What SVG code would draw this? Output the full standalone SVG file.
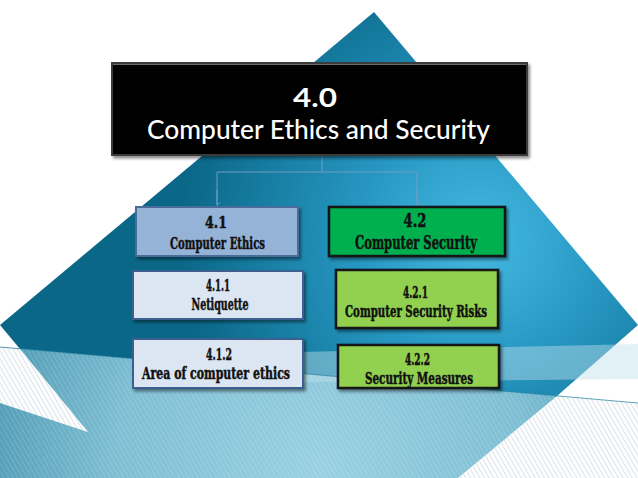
<svg xmlns="http://www.w3.org/2000/svg" width="638" height="478" viewBox="0 0 638 478">
  <defs>
    <radialGradient id="diamondGrad" cx="480" cy="240" r="300" gradientUnits="userSpaceOnUse">
      <stop offset="0" stop-color="#45b9e1"/>
      <stop offset="0.4" stop-color="#2798c3"/>
      <stop offset="1" stop-color="#0a6787"/>
    </radialGradient>
    <radialGradient id="bottomGrad" cx="320" cy="470" r="340" gradientUnits="userSpaceOnUse">
      <stop offset="0" stop-color="#98d0e1"/>
      <stop offset="0.6" stop-color="#7dbed3"/>
      <stop offset="1" stop-color="#4f9ab4"/>
    </radialGradient>
    <pattern id="stripes" width="4" height="4" patternUnits="userSpaceOnUse" patternTransform="rotate(-30)">
      <rect x="0" y="0" width="1.2" height="4" fill="#ffffff" opacity="0.15"/>
    </pattern>
    <pattern id="greyStripes" width="4" height="4" patternUnits="userSpaceOnUse" patternTransform="rotate(-30)">
      <rect x="0" y="0" width="1.2" height="4" fill="#c8d4da" opacity="0.6"/>
    </pattern>
    <filter id="shadow" x="-10%" y="-10%" width="130%" height="140%">
      <feDropShadow dx="2" dy="2.5" stdDeviation="1.5" flood-color="#000" flood-opacity="0.45"/>
    </filter>
    <marker id="arrow" viewBox="0 0 10 10" refX="5" refY="8" markerWidth="7" markerHeight="7" orient="auto-start-reverse" markerUnits="userSpaceOnUse">
      <path d="M1,3 L5,8 L9,3" fill="none" stroke="#6f9cc4" stroke-width="1.2"/>
    </marker>
    <style>
      .title { font-family: Lato, "Open Sans", sans-serif; fill: #ffffff; text-anchor: middle; }
      .lbl { font-family: "DejaVu Serif", "Liberation Serif", serif; font-weight: bold; fill: #111111; stroke: #111111; stroke-width: 0.5; text-anchor: middle; }
      .conn { fill: none; stroke: #6f9cc4; stroke-width: 1; }
      .blueBox { fill: #95b3d7; stroke: #4a6c9b; stroke-width: 2; }
      .paleBox { fill: #dce6f2; stroke: #3d5f8f; stroke-width: 2; }
      .greenBox { fill: #00b050; stroke: #151515; stroke-width: 2.5; }
      .limeBox { fill: #92d050; stroke: #151515; stroke-width: 2.5; }
    </style>
  </defs>

  <!-- background -->
  <rect x="0" y="0" width="638" height="478" fill="#ffffff"/>
  <polygon points="374,12 638,325 557,396 20,349 0,325" fill="url(#diamondGrad)"/>
  <polygon points="0,347 557,396 458,478 0,478" fill="url(#bottomGrad)"/>
  <polygon points="0,347 557,396 458,478 0,478" fill="url(#stripes)"/>
  <polygon points="0,347 20,349 88,432 0,403" fill="#ffffff"/>
  <polygon points="0,347 20,349 88,432 0,403" fill="url(#greyStripes)"/>
  <polygon points="557,396 638,403 638,478 458,478" fill="url(#greyStripes)"/>
  <polygon points="300,352 638,344 638,379 300,382" fill="#bfe0ec" opacity="0.45"/>
  <line x1="0" y1="347" x2="638" y2="403" stroke="#1f7fa0" stroke-width="1" opacity="0.7"/>

  <!-- connectors -->
  <g id="connectors">
    <path class="conn" d="M322,155 V172 M217,172 H417 M217,172 V205 M417,172 V205"/>
    <path class="conn" d="M217,190 V205" marker-end="url(#arrow)"/>
    <path class="conn" d="M417,190 V205" marker-end="url(#arrow)"/>
  </g>

  <!-- title -->
  <g id="node-4-0">
    <rect x="112" y="63" width="415" height="92" fill="#050505" stroke="#3a3a3a" stroke-width="2" filter="url(#shadow)"/>
    <line x1="113" y1="64.5" x2="526" y2="64.5" stroke="#6a6a6a" stroke-width="1"/>
    <text class="title" x="315" y="107" font-size="27" font-weight="bold" textLength="44" lengthAdjust="spacingAndGlyphs">4.0</text>
    <text class="title" x="318.5" y="139" font-size="27" font-weight="500" textLength="343" lengthAdjust="spacingAndGlyphs">Computer Ethics and Security</text>
  </g>

  <!-- 4.1 -->
  <g id="node-4-1">
    <rect class="blueBox" x="136" y="207" width="162" height="49" filter="url(#shadow)"/>
    <text class="lbl" x="216" y="228" font-size="17" textLength="22" lengthAdjust="spacingAndGlyphs">4.1</text>
    <text class="lbl" x="217.5" y="249" font-size="17" textLength="95" lengthAdjust="spacingAndGlyphs">Computer Ethics</text>
  </g>

  <!-- 4.2 -->
  <g id="node-4-2">
    <rect class="greenBox" x="329" y="207" width="176" height="49" filter="url(#shadow)"/>
    <text class="lbl" x="415" y="227" font-size="18" textLength="23" lengthAdjust="spacingAndGlyphs">4.2</text>
    <text class="lbl" x="416" y="249" font-size="18" textLength="122" lengthAdjust="spacingAndGlyphs">Computer Security</text>
  </g>

  <!-- 4.1.1 -->
  <g id="node-4-1-1">
    <rect class="paleBox" x="133" y="271" width="170" height="48" filter="url(#shadow)"/>
    <text class="lbl" x="218" y="291" font-size="16" textLength="24" lengthAdjust="spacingAndGlyphs">4.1.1</text>
    <text class="lbl" x="220" y="310" font-size="16" textLength="57" lengthAdjust="spacingAndGlyphs">Netiquette</text>
  </g>

  <!-- 4.1.2 -->
  <g id="node-4-1-2">
    <rect class="paleBox" x="133" y="339" width="170" height="49" filter="url(#shadow)"/>
    <text class="lbl" x="219" y="360" font-size="16" textLength="26" lengthAdjust="spacingAndGlyphs">4.1.2</text>
    <text class="lbl" x="216" y="379" font-size="16" textLength="148" lengthAdjust="spacingAndGlyphs">Area of computer ethics</text>
  </g>

  <!-- 4.2.1 -->
  <g id="node-4-2-1">
    <rect class="limeBox" x="336" y="270" width="162" height="58" filter="url(#shadow)"/>
    <text class="lbl" x="415.5" y="298" font-size="16" textLength="25" lengthAdjust="spacingAndGlyphs">4.2.1</text>
    <text class="lbl" x="416" y="317" font-size="16" textLength="142" lengthAdjust="spacingAndGlyphs">Computer Security Risks</text>
  </g>

  <!-- 4.2.2 -->
  <g id="node-4-2-2">
    <rect class="limeBox" x="338" y="345" width="161" height="43" filter="url(#shadow)"/>
    <text class="lbl" x="417.5" y="365" font-size="16" textLength="25" lengthAdjust="spacingAndGlyphs">4.2.2</text>
    <text class="lbl" x="419" y="384" font-size="16" textLength="108" lengthAdjust="spacingAndGlyphs">Security Measures</text>
  </g>
</svg>
